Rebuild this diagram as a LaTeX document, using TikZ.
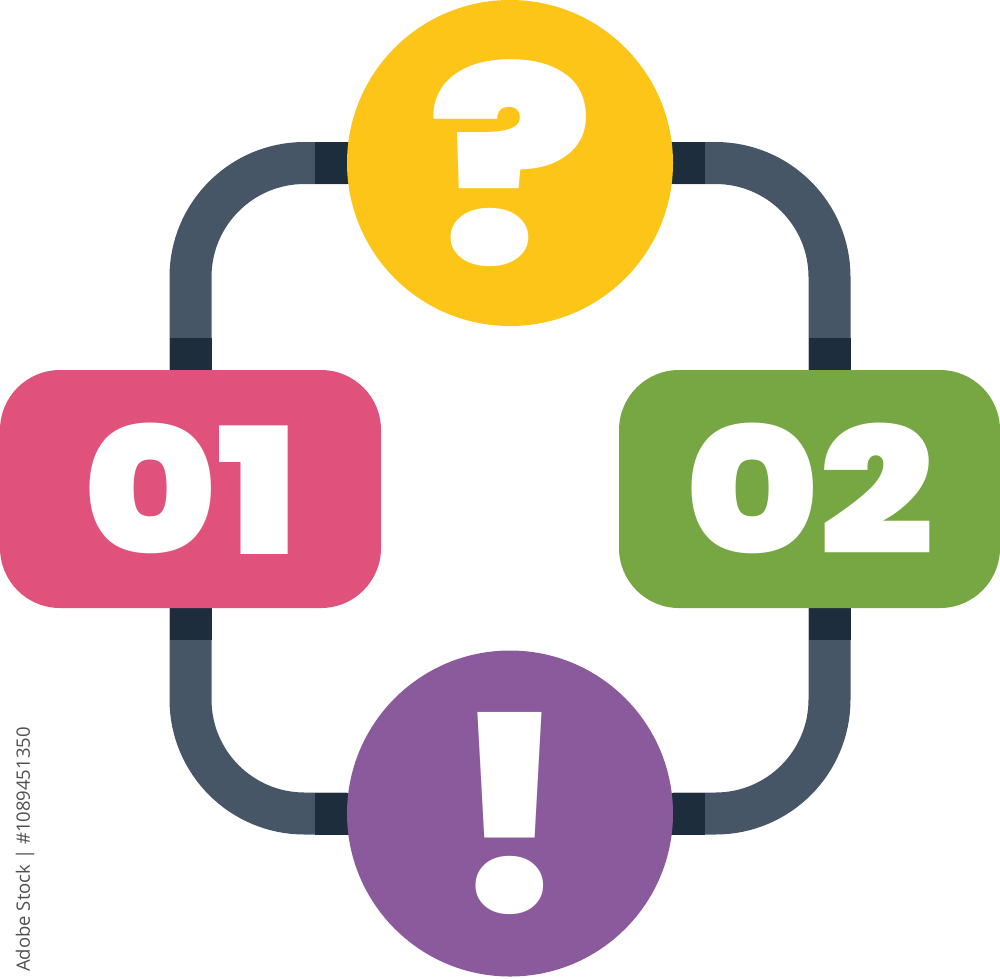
\documentclass[tikz,border=0pt]{standalone}
\usepackage{fontspec}
\usepackage{graphicx}
\usepackage{tikz}
\usetikzlibrary{backgrounds}
\newfontfamily\heavyfont{Poppins Black}
\newfontfamily\idfont{Open Sans}
\definecolor{qyellow}{HTML}{FDC518}
\definecolor{expurple}{HTML}{8B5A9D}
\definecolor{onepink}{HTML}{E0527C}
\definecolor{twogreen}{HTML}{77A742}
\definecolor{bandgray}{HTML}{465666}
\definecolor{jointdark}{HTML}{1E2D3C}
\definecolor{idgray}{HTML}{505050}

\tikzset{
    bubble/.style={circle, minimum size=326pt, inner sep=0pt, text=white},
    tag/.style={rectangle, rounded corners=60pt, minimum width=381pt, minimum height=238pt, inner sep=0pt, text=white},
    band/.style={line width=42pt, draw=bandgray, rounded corners=114pt},
    joint/.style={line width=42pt, draw=jointdark},
}
\newcommand{\bigmark}[2]{\heavyfont\fontsize{#1}{#1}\selectfont\scalebox{1.15}[1]{#2}}

\begin{document}
\begin{tikzpicture}[x=1pt,y=1pt,yscale=-1,xscale=1]
    \useasboundingbox (0,0) rectangle (1000,978);
    
    %Circle: question [id:q]
    \node [bubble, fill=qyellow] (q) at (510,163) {\bigmark{265}{?}};
    %Circle: exclamation [id:ex]
    \node [bubble, fill=expurple] (ex) at (510,813.5) {\heavyfont\fontsize{265}{265}\selectfont !};
    %Rounded Rect: 01 [id:one]
    \node [tag, fill=onepink] (one) at (190.5,489) {\bigmark{176}{01}};
    %Rounded Rect: 02 [id:two]
    \node [tag, fill=twogreen] (two) at (809.5,489) {\bigmark{176}{02}};
    
    %right line of the loop
    \coordinate (rgt) at (829.5,0);
    
    \begin{scope}[on background layer]
    %Loop: four arcs
    \draw [band] (q.west) -| (one.north);
    \draw [band] (q.east) -| (two.north -| rgt);
    \draw [band] (two.south -| rgt) |- (ex.east);
    \draw [band] (ex.west) -| (one.south);
    %Joints next to the shapes
    \draw [joint] (q.center) -- (q.west) -- ++(-32,0);
    \draw [joint] (q.center) -- (q.east) -- ++(32,0);
    \draw [joint] (ex.center) -- (ex.west) -- ++(-32,0);
    \draw [joint] (ex.center) -- (ex.east) -- ++(32,0);
    \draw [joint] (one.center) -- (one.north) -- ++(0,-32);
    \draw [joint] (one.center) -- (one.south) -- ++(0,32);
    \draw [joint] (two.north -| rgt) -- ++(0,40) (two.north -| rgt) -- ++(0,-32);
    \draw [joint] (two.south -| rgt) -- ++(0,-40) (two.south -| rgt) -- ++(0,32);
    \end{scope}
    
    % Text Node
    \node [anchor=east, rotate=90, inner sep=0pt, text=idgray] (stockid) at (25,727) {\idfont\fontsize{18.5}{18.5}\selectfont Adobe Stock | \#1089451350};
    
\end{tikzpicture}
\end{document}
